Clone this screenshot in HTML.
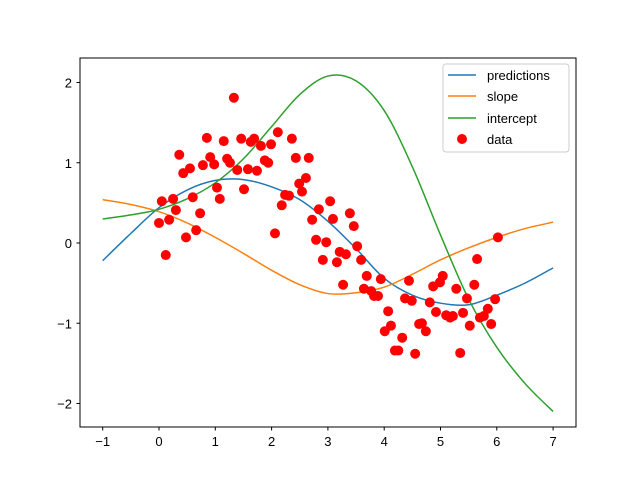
<!DOCTYPE html>
<html><head><meta charset="utf-8"><style>
html,body{margin:0;padding:0;background:#fff}
svg{display:block;font-family:"Liberation Sans","DejaVu Sans",sans-serif}
</style></head><body>
<svg id="chart" width="640" height="480" viewBox="0 0 640 480">
<rect width="640" height="480" fill="#fff"/>
<g id="plot"></g>
<rect x="80" y="58" width="496" height="369" fill="none" stroke="#000" stroke-width="1"/>
<g id="ticks" font-size="13" fill="#000"></g>
<g>
<rect x="443" y="64" width="126" height="88" rx="3" fill="#fff" fill-opacity="0.8" stroke="#ccc"/>
<g><line x1="448" y1="75" x2="476" y2="75" stroke="#1f77b4" stroke-width="1.5"/><text x="487" y="80" font-size="13">predictions</text></g>
<g><line x1="448" y1="96" x2="476" y2="96" stroke="#ff7f0e" stroke-width="1.5"/><text x="487" y="101" font-size="13">slope</text></g>
<g><line x1="448" y1="118" x2="476" y2="118" stroke="#2ca02c" stroke-width="1.5"/><text x="487" y="123" font-size="13">intercept</text></g>
<g><circle cx="462" cy="139" r="5" fill="red"/><text x="487" y="144" font-size="13">data</text></g>
</g>
</svg>
<script>
const lineX = [-1,-0.5,0,0.5,1,1.5,2,2.5,3,3.5,4,4.5,5,5.5,6,6.5,7];
const predictions = [-0.22,0.12,0.44,0.66,0.78,0.79,0.7,0.54,0.27,-0.07,-0.44,-0.65,-0.75,-0.77,-0.65,-0.5,-0.31];
const slope = [0.54,0.48,0.39,0.25,0.07,-0.13,-0.34,-0.52,-0.63,-0.62,-0.55,-0.39,-0.21,-0.06,0.07,0.18,0.26];
const intercept = [0.3,0.35,0.42,0.55,0.75,1.05,1.45,1.85,2.08,2.02,1.65,0.95,0.1,-0.7,-1.3,-1.75,-2.1];
const dataX = [0.00,0.05,0.12,0.18,0.25,0.30,0.36,0.43,0.48,0.55,0.60,0.66,0.73,0.78,0.85,0.91,0.98,1.03,1.08,1.15,1.21,1.26,1.33,1.39,1.46,1.51,1.58,1.63,1.69,1.74,1.81,1.88,1.94,1.99,2.06,2.11,2.18,2.24,2.31,2.36,2.43,2.49,2.54,2.61,2.66,2.72,2.79,2.84,2.91,2.97,3.04,3.09,3.16,3.21,3.27,3.32,3.39,3.46,3.52,3.59,3.64,3.69,3.77,3.82,3.89,3.94,4.01,4.07,4.12,4.19,4.25,4.32,4.37,4.44,4.49,4.55,4.62,4.67,4.74,4.81,4.87,4.92,4.99,5.04,5.10,5.17,5.22,5.28,5.35,5.40,5.47,5.52,5.60,5.65,5.70,5.77,5.84,5.90,5.97,6.02];
const dataY = [0.25,0.52,-0.15,0.29,0.55,0.41,1.10,0.87,0.07,0.93,0.57,0.16,0.37,0.97,1.31,1.07,0.98,0.69,0.55,1.27,1.05,1.00,1.81,0.91,1.30,0.67,0.92,1.26,1.30,0.90,1.21,1.03,1.00,1.23,0.12,1.38,0.47,0.60,0.59,1.30,1.06,0.74,0.64,0.81,1.06,0.29,0.04,0.42,-0.21,0.01,0.52,0.30,-0.24,-0.11,-0.52,-0.14,0.37,0.21,-0.04,-0.21,-0.57,-0.41,-0.60,-0.66,-0.66,-0.45,-1.10,-0.85,-1.03,-1.34,-1.34,-1.18,-0.69,-0.47,-0.72,-1.38,-1.01,-1.00,-1.10,-0.74,-0.54,-0.86,-0.49,-0.41,-0.90,-0.93,-0.91,-0.57,-1.37,-0.87,-0.69,-1.03,-0.52,-0.20,-0.93,-0.91,-0.82,-1.01,-0.70,0.07];
const xTicks = [-1,0,1,2,3,4,5,6,7];
const yTicks = [-2,-1,0,1,2];

const sx = v => 159 + v*56.3;
const sy = v => 243 - v*80.25;
const NS = "http://www.w3.org/2000/svg";
const plot = document.getElementById('plot');
const ticks = document.getElementById('ticks');

function smoothPath(xs, ys){
  const p = xs.map((x,i)=>[sx(x), sy(ys[i])]);
  let d = `M${p[0][0]},${p[0][1]}`;
  for(let i=0;i<p.length-1;i++){
    const p0=p[Math.max(i-1,0)], p1=p[i], p2=p[i+1], p3=p[Math.min(i+2,p.length-1)];
    const c1=[p1[0]+(p2[0]-p0[0])/6, p1[1]+(p2[1]-p0[1])/6];
    const c2=[p2[0]-(p3[0]-p1[0])/6, p2[1]-(p3[1]-p1[1])/6];
    d += ` C${c1[0]},${c1[1]} ${c2[0]},${c2[1]} ${p2[0]},${p2[1]}`;
  }
  return d;
}
function addLine(ys, color, name){
  const el = document.createElementNS(NS,'path');
  el.setAttribute('d', smoothPath(lineX, ys));
  el.setAttribute('fill','none');
  el.setAttribute('stroke',color);
  el.setAttribute('stroke-width','1.5');
  
  
  plot.appendChild(el);
}
addLine(predictions,'#1f77b4','predictions-line');
addLine(slope,'#ff7f0e','slope-line');
addLine(intercept,'#2ca02c','intercept-line');
dataX.forEach((x,i)=>{
  const c = document.createElementNS(NS,'circle');
  c.setAttribute('cx', sx(x));
  c.setAttribute('cy', sy(dataY[i]));
  c.setAttribute('r','5');
  c.setAttribute('fill','red');
  
  
  plot.appendChild(c);
});
xTicks.forEach(t=>{
  const l = document.createElementNS(NS,'line');
  l.setAttribute('x1',sx(t)); l.setAttribute('x2',sx(t));
  l.setAttribute('y1',427); l.setAttribute('y2',430.5);
  l.setAttribute('stroke','#000');
  
  
  ticks.appendChild(l);
  const tx = document.createElementNS(NS,'text');
  tx.setAttribute('x',sx(t)); tx.setAttribute('y',446);
  tx.setAttribute('text-anchor','middle');
  tx.textContent = t<0 ? '\u2212'+Math.abs(t) : String(t);
  
  
  ticks.appendChild(tx);
});
yTicks.forEach(t=>{
  const l = document.createElementNS(NS,'line');
  l.setAttribute('x1',76.5); l.setAttribute('x2',80);
  l.setAttribute('y1',sy(t)); l.setAttribute('y2',sy(t));
  l.setAttribute('stroke','#000');
  
  
  ticks.appendChild(l);
  const tx = document.createElementNS(NS,'text');
  tx.setAttribute('x',72); tx.setAttribute('y',sy(t)+5);
  tx.setAttribute('text-anchor','end');
  tx.textContent = t<0 ? '\u2212'+Math.abs(t) : String(t);
  
  
  ticks.appendChild(tx);
});
</script>
</body></html>
